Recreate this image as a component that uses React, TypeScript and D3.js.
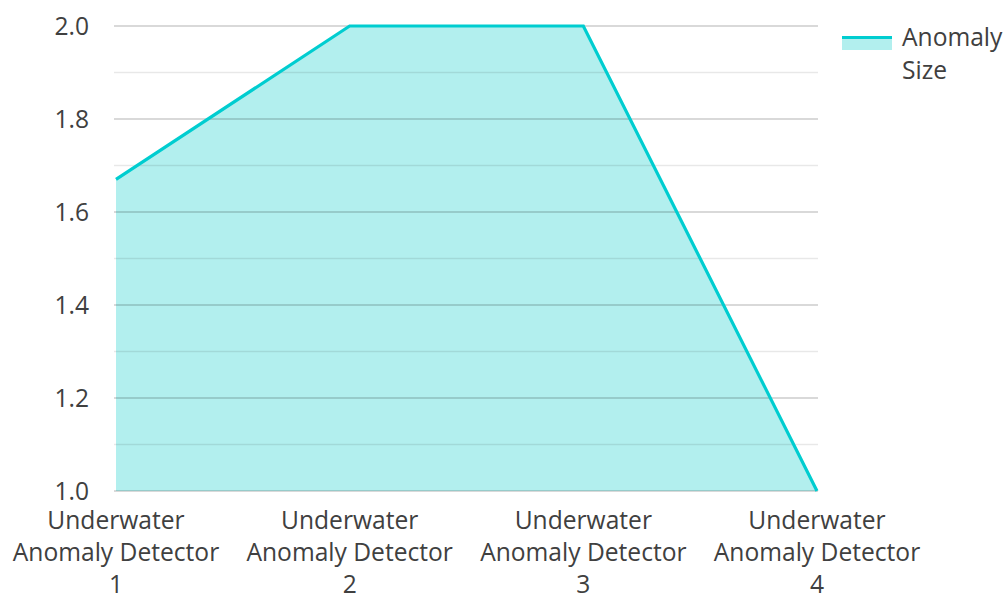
import React, { useEffect, useRef } from 'react';
import * as d3 from 'd3';

// categories and values
const detectors = [
  'Underwater Anomaly Detector 1',
  'Underwater Anomaly Detector 2',
  'Underwater Anomaly Detector 3',
  'Underwater Anomaly Detector 4',
];
const anomalySize = [1.67, 2, 2, 1];
const yTicks = [1.0, 1.2, 1.4, 1.6, 1.8, 2.0];
const yMinorTicks = [1.1, 1.3, 1.5, 1.7, 1.9];
const seriesName = ['Anomaly', 'Size'];

const FONT = '"Open Sans", "Noto Sans", sans-serif';
const LINE = '#00cdd0';
const FILL = '#b2efee';
const FS = 24.6;

export default function App() {
  const ref = useRef<SVGSVGElement>(null);

  useEffect(() => {
    const svg = d3.select(ref.current);
    svg.selectAll('*').remove();

    const left = 116, right = 817, top = 26, bottom = 491;

    const x = d3.scalePoint<string>().domain(detectors).range([left, right]);
    const y = d3.scaleLinear().domain([1, 2]).range([bottom, top]);

    // area first, grid drawn over it
    const area = d3.area<number>()
      .x((d, i) => x(detectors[i])!)
      .y0(y(1))
      .y1(d => y(d));
    const line = d3.line<number>()
      .x((d, i) => x(detectors[i])!)
      .y(d => y(d));

    svg.append('path')
      .datum(anomalySize)
      .attr('d', area)
      .attr('fill', FILL);

    const grid = svg.append('g');
    grid.selectAll('line.minor')
      .data(yMinorTicks)
      .enter()
      .append('line')
      .attr('class', 'minor')
      .attr('x1', left - 2).attr('x2', right + 1)
      .attr('y1', d => y(d)).attr('y2', d => y(d))
      .attr('stroke', 'rgba(0,0,0,0.09)').attr('stroke-width', 1.5);
    grid.selectAll('line.major')
      .data(yTicks)
      .enter()
      .append('line')
      .attr('class', 'major')
      .attr('x1', left - 2).attr('x2', right + 1)
      .attr('y1', d => y(d)).attr('y2', d => y(d))
      .attr('stroke', 'rgba(0,0,0,0.2)').attr('stroke-width', 1.5);

    svg.append('path')
      .datum(anomalySize)
      .attr('d', line)
      .attr('fill', 'none')
      .attr('stroke', LINE)
      .attr('stroke-width', 3.2);

    // y labels
    svg.append('g')
      .selectAll('text')
      .data(yTicks)
      .enter()
      .append('text')
      .attr('x', 89)
      .attr('y', d => y(d) + 8.5)
      .attr('text-anchor', 'end')
      .attr('font-family', FONT)
      .attr('font-size', FS)
      .attr('fill', '#404040')
      .text(d => d.toFixed(1));

    // x labels, wrapped into three lines
    const xl = svg.append('g')
      .selectAll('text')
      .data(detectors)
      .enter()
      .append('text')
      .attr('text-anchor', 'middle')
      .attr('font-family', FONT)
      .attr('font-size', FS)
      .attr('fill', '#404040');
    xl.each(function (d) {
      const parts = d.split(' ');
      const lines = [parts[0], parts[1] + ' ' + parts[2], parts[3]];
      const t = d3.select(this);
      lines.forEach((s, i) => {
        t.append('tspan')
          .attr('x', x(d)!)
          .attr('y', 529 + i * 32)
          .text(s);
      });
    });

    // legend
    const lg = svg.append('g');
    lg.append('rect')
      .attr('x', 842).attr('y', 37).attr('width', 50).attr('height', 13)
      .attr('fill', FILL);
    lg.append('line')
      .attr('x1', 842).attr('x2', 892).attr('y1', 37.5).attr('y2', 37.5)
      .attr('stroke', LINE).attr('stroke-width', 3);
    lg.append('text')
      .attr('font-family', FONT)
      .attr('font-size', FS)
      .attr('fill', '#404040')
      .selectAll('tspan')
      .data(seriesName)
      .enter()
      .append('tspan')
      .attr('x', 902)
      .attr('y', (d, i) => 46 + i * 33)
      .text(d => d);
  }, []);

  return (
    <svg
      ref={ref}
      width={1004}
      height={596}
      style={{ position: 'absolute', left: 0, top: 0, background: '#fff' }}
    />
  );
}
